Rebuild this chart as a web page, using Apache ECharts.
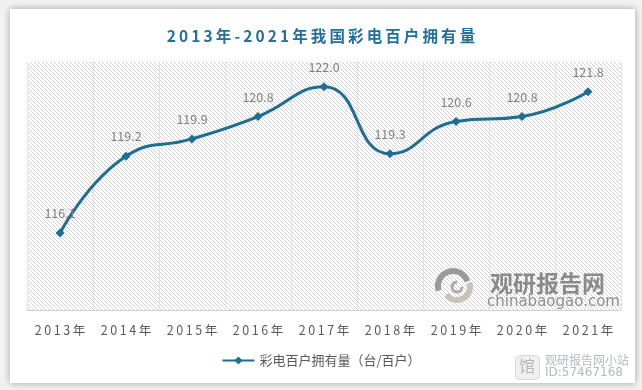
<!DOCTYPE html>
<html><head><meta charset="utf-8">
<script src="https://cdn.jsdelivr.net/npm/echarts@6/dist/echarts.min.js"></script>
<style>
html,body{margin:0;padding:0;background:#f2f2f2;width:642px;height:390px;overflow:hidden;}
#frame{position:absolute;left:10px;top:9px;width:625px;height:374px;background:#fff;box-shadow:0 0 7px rgba(0,0,0,0.35);}
#chart{position:absolute;left:0;top:0;width:642px;height:390px;}
</style></head>
<body><div id="frame"></div><div id="chart"></div>
<script>
var titleText = '2013年-2021年我国彩电百户拥有量';
var years = ['2013年','2014年','2015年','2016年','2017年','2018年','2019年','2020年','2021年'];
var seriesName = '彩电百户拥有量（台/百户）';
var values = [116.1, 119.2, 119.9, 120.8, 122.0, 119.3, 120.6, 120.8, 121.8];

function spaced(s, sp){ return s.split('').join(sp); }

var pc = document.createElement('canvas');
pc.width = 4; pc.height = 4;
var g = pc.getContext('2d');
g.fillStyle = '#ffffff'; g.fillRect(0,0,4,4);
g.strokeStyle = '#d4d4d4'; g.lineWidth = 1;
g.beginPath();
g.moveTo(-1,-1); g.lineTo(5,5);
g.moveTo(-1,3); g.lineTo(1,5);
g.moveTo(3,-1); g.lineTo(5,1);
g.stroke();

var chart = echarts.init(document.getElementById('chart'), null, {renderer:'canvas'});
var lineColor = '#1f6d90';
chart.setOption({
  backgroundColor: 'transparent',
  animation: false,
  title: {
    text: spaced(titleText, '\u2009'),
    left: 'center', top: 23,
    textStyle: {color:'#22709a', fontSize:15.5, fontWeight:'bold', fontFamily:'Noto Sans CJK SC'}
  },
  grid: {left:27, right:21, top:62, bottom:80, show:true, borderWidth:0,
    backgroundColor: {image: pc, repeat: 'repeat'}},
  legend: {
    bottom: 18, left: 'center', itemWidth: 32, itemHeight: 10, itemGap: 10,
    textStyle: {color:'#595959', fontSize:13, fontFamily:'Noto Sans CJK SC'},
    data: [seriesName]
  },
  xAxis: {
    type:'category', data: years, boundaryGap:true,
    axisLine:{lineStyle:{color:'#d0d0d0', width:1}},
    axisTick:{show:false},
    axisLabel:{interval:0, color:'#595959', fontSize:12.5, margin:14, fontFamily:'Noto Sans CJK SC',
      formatter: function(v){ return spaced(v, '\u2009'); }},
    splitLine:{show:true, interval:0, lineStyle:{color:'#e2e2e2', width:1}}
  },
  yAxis: {type:'value', min:113, max:123, show:false, splitLine:{show:false}},
  series: [{
    name: seriesName, type:'line', data: values, smooth:0.5,
    symbol:'diamond', symbolSize:9,
    lineStyle:{color:lineColor, width:3},
    itemStyle:{color:lineColor},
    label:{show:true, position:'top', distance:9, color:'#7f7f7f', fontSize:12.5,
      fontFamily:'Noto Sans CJK SC',
      formatter:function(p){ return p.value.toFixed(1); }}
  }],
  graphic: [
    {type:'group', left:435, top:268, z:50, children:[
      {type:'arc', shape:{cx:20, cy:17, r:15, startAngle:Math.PI*0.9, endAngle:Math.PI*1.9}, style:{stroke:'#9a9a9a', lineWidth:6, fill:null}},
      {type:'arc', shape:{cx:24, cy:18, r:13, startAngle:-Math.PI*0.1, endAngle:Math.PI*0.8}, style:{stroke:'#c8c2b8', lineWidth:6, fill:null}},
      {type:'arc', shape:{cx:24, cy:18, r:5, startAngle:0, endAngle:Math.PI*1.5}, style:{stroke:'#aaaaaa', lineWidth:3, fill:null}}
    ]},
    {type:'text', left:490, top:272, z:50, style:{text:'观研报告网', fill:'#8a8a8a', font:'bold 23px "Noto Sans CJK SC"'}},
    {type:'text', left:487, top:295, z:50, style:{text:'chinabaogao.com', fill:'#8f8f8f', font:'15px "DejaVu Sans"'}},
    {type:'rect', left:515, top:355, z:50, shape:{width:24, height:24, r:4}, style:{fill:'#f0f0f0', stroke:'#d8d8d8'}},
    {type:'text', left:519, top:358, z:51, style:{text:'馆', fill:'#b8b8b8', font:'16px "Noto Sans CJK SC"'}},
    {type:'text', left:545, top:354, z:50, style:{text:'观研报告网小站', fill:'#b4b8c4', font:'12px "Noto Sans CJK SC"'}},
    {type:'text', left:545, top:367, z:50, style:{text:'ID:57467168', fill:'#b4b8c4', font:'12px "DejaVu Sans"'}}
  ]
});
</script></body></html>
